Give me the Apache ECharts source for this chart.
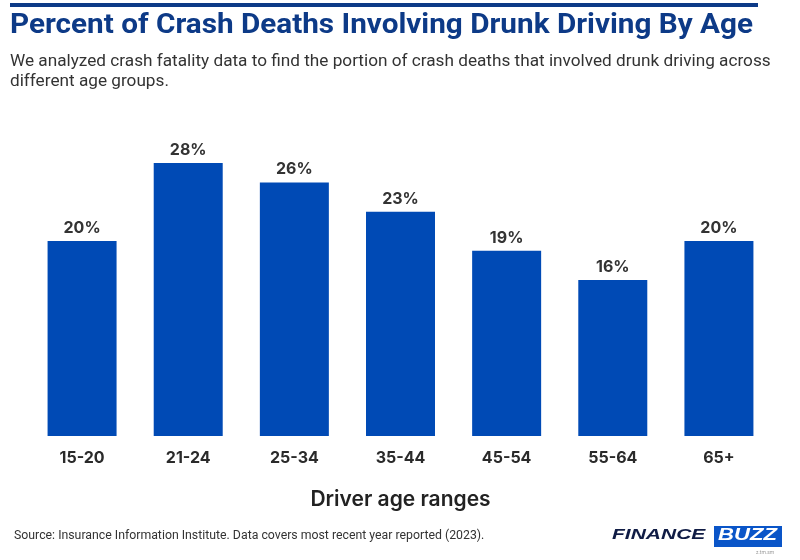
<!doctype html>
<html lang="en">
<head>
<meta charset="UTF-8">
<title>Percent of Crash Deaths Involving Drunk Driving By Age</title>
<script src="https://cdn.jsdelivr.net/npm/echarts@6/dist/echarts.min.js"></script>
<style>
  html, body { margin: 0; padding: 0; background: #fff; }
  #main { width: 800px; height: 560px; }
</style>
</head>
<body>
<div id="main"></div>
<script type="text/javascript">
// age groups and share of crash deaths (percent)
var ageGroups = ['15-20', '21-24', '25-34', '35-44', '45-54', '55-64', '65+'];
var drunkShare = [20, 28, 26, 23, 19, 16, 20];

var blue = '#004ab5';
var navy = '#0d3a87';

var myChart = echarts.init(document.getElementById('main'));

var option = {
    backgroundColor: '#fff',
    animation: false,
    title: {
        text: '',
        subtext: 'We analyzed crash fatality data to find the portion of crash deaths that involved drunk driving across\ndifferent age groups.',
        left: 5,
        top: 47,
        itemGap: 0,
        subtextStyle: {
            fontFamily: 'Roboto',
            fontSize: 17.2,
            lineHeight: 20,
            color: '#333'
        }
    },
    grid: {
        left: 29,
        right: 28,
        top: 163,
        bottom: 124,
        containLabel: false
    },
    xAxis: {
        type: 'category',
        data: ageGroups,
        name: 'Driver age ranges',
        nameLocation: 'middle',
        nameGap: 53,
        nameTextStyle: {
            fontFamily: 'Inter',
            fontWeight: 600,
            fontSize: 21,
            color: '#222'
        },
        axisLine: { show: false },
        axisTick: { show: false },
        axisLabel: {
            margin: 14,
            fontFamily: 'Inter',
            fontWeight: 'bold',
            fontSize: 16,
            color: '#2a2a2a'
        }
    },
    yAxis: {
        type: 'value',
        min: 0,
        max: 28,
        show: false,
        splitLine: { show: false }
    },
    series: [{
        type: 'bar',
        data: drunkShare,
        barWidth: 69,
        itemStyle: { color: blue },
        label: {
            show: true,
            position: 'top',
            distance: 5,
            formatter: '{c}%',
            fontFamily: 'Inter',
            fontWeight: 'bold',
            fontSize: 16,
            color: '#333'
        }
    }],
    graphic: [
        {
            type: 'rect',
            left: 10,
            top: 3,
            shape: { width: 748, height: 4 },
            style: { fill: navy }
        },
        {
            type: 'text',
            x: 10,
            y: 13,
            scaleX: 1.1,
            style: {
                text: 'Percent of Crash Deaths Involving Drunk Driving By Age',
                fontFamily: 'Roboto',
                fontWeight: 'bold',
                fontSize: 27,
                fill: navy
            }
        },
        {
            type: 'text',
            left: 14,
            top: 530,
            style: {
                text: 'Source: Insurance Information Institute. Data covers most recent year reported (2023).',
                fontFamily: 'Roboto',
                fontSize: 12.3,
                fill: '#333'
            }
        },
        {
            type: 'text',
            x: 612,
            y: 527,
            scaleX: 1.4,
            style: {
                text: 'FINANCE',
                fontFamily: 'Liberation Sans',
                fontWeight: 'bold',
                fontStyle: 'italic',
                fontSize: 15,
                fill: '#101c45'
            }
        },
        {
            type: 'rect',
            left: 714,
            top: 526,
            shape: { width: 68, height: 21 },
            style: { fill: '#0a55c8' }
        },
        {
            type: 'text',
            x: 718,
            y: 527,
            scaleX: 1.3,
            style: {
                text: 'BUZZ',
                fontFamily: 'Liberation Sans',
                fontWeight: 'bold',
                fontStyle: 'italic',
                fontSize: 17,
                fill: '#fff'
            }
        },
        {
            type: 'text',
            left: 756,
            top: 550,
            style: {
                text: 'z.tm.sm',
                fontFamily: 'Roboto',
                fontSize: 5,
                fill: '#999'
            }
        }
    ]
};

myChart.setOption(option);
</script>
</body>
</html>
